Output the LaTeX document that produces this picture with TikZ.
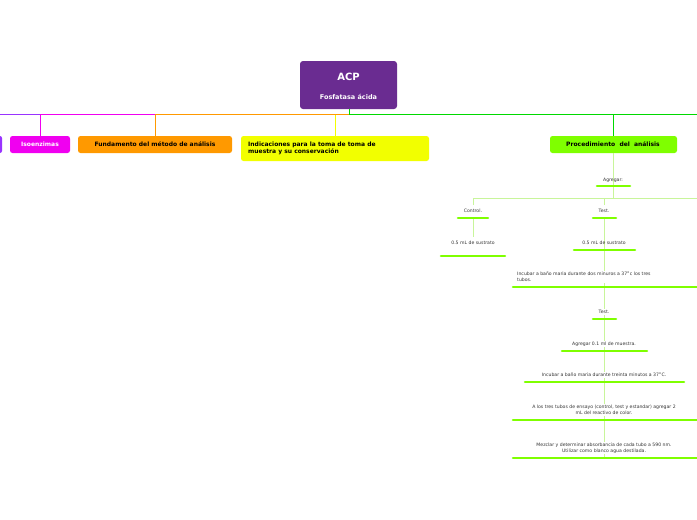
\documentclass[tikz,border=0pt]{standalone}
\usepackage{fontspec}
\setmainfont{DejaVu Sans}
\definecolor{acp}{HTML}{6A2C91}
\definecolor{mag}{HTML}{F000F0}
\definecolor{org}{HTML}{FF9900}
\definecolor{yel}{HTML}{F2FF00}
\definecolor{grn}{HTML}{7FFF00}
\definecolor{lgrn}{HTML}{C8F59A}
\definecolor{pur}{HTML}{9933FF}
\begin{document}
\begin{tikzpicture}[x=1pt,y=-1pt,
  box/.style={rounded corners=2.5pt,inner sep=0pt,font=\bfseries\fontsize{6}{7.5}\selectfont},
  lab/.style={font=\fontsize{4.6}{6}\selectfont,align=center,inner sep=0pt,text=black!80},
  bar/.style={grn,line width=2.6pt,line cap=round},
  conn/.style={lgrn,line width=0.8pt}]
\useasboundingbox (0,0) rectangle (697,520);
% main
\fill[acp,rounded corners=3pt] (300,61) rectangle (397,109);
\node[font=\bfseries\fontsize{10}{12}\selectfont,text=white] (acp) at (348.5,77) {ACP};
\node[font=\bfseries\fontsize{6.5}{8}\selectfont,text=white] (acp2) at (348.5,97) {Fosfatasa ácida};
\coordinate (root) at (349,109);
% branch lines
\draw[yel,line width=0.8pt] (root) -- (349,114) -- (335,114) -- (335,136);
\draw[org,line width=0.8pt] (349,114) -- (155,114) -- (155,136);
\draw[mag,line width=0.8pt] (155,114) -- (40,114) -- (40,136);
\draw[pur,line width=0.8pt] (40,114) -- (0,114);
\draw[green!85!black,line width=0.8pt] (root) -- (349,114) -- (697,114);
\draw[green!85!black,line width=0.8pt] (613,114) -- (613,136);
% boxes
\fill[pur,rounded corners=2pt] (-4,136) rectangle (2,153);
\fill[mag,rounded corners=2.5pt] (10,136) rectangle (70,153);
\node[box,text=white] (iso) at (40,144.5) {Isoenzimas};
\fill[org,rounded corners=2.5pt] (78,136) rectangle (232,153);
\node[box] (fun) at (155,144.5) {Fundamento del método de análisis};
\fill[yel,rounded corners=2.5pt] (241,136) rectangle (429,161);
\node[box,align=left,anchor=west] (ind) at (248,148.5) {Indicaciones para la toma de toma de\\muestra y su conservación};
\fill[grn,rounded corners=2.5pt] (550,136) rectangle (677,153);
\node[box] (proc) at (613,144.5) {Procedimiento\ \ del\ \ análisis};
% tree
\draw[conn] (613,153) -- (613,186);
\node[lab] (ag) at (613,180) {Agregar:};
\draw[conn] (613,186) -- (613,198);
\draw[conn] (473,205) -- (473,198) -- (697,198);
\draw[conn] (604,198) -- (604,205);
\node[lab] (c1) at (473,211) {Control.};
\draw[conn] (473,218) -- (473,237);
\node[lab] (c2) at (473,243) {0.5 mL de sustrato};
\node[lab] (t1) at (604,211) {Test.};
\draw[conn] (604,218) -- (604,458);
\node[lab] (t2) at (604,243) {0.5 mL de sustrato};
\node[lab,align=left,anchor=west,fill=white,inner sep=1pt] (inc1) at (516,277) {Incubar a baño maria durante dos minuros a 37$^{\mathrm{o}}$c los tres\\tubos.};
\node[lab,fill=white,inner sep=1pt] (t3) at (604,312) {Test.};
\node[lab,fill=white,inner sep=1pt] (a01) at (604,344) {Agregar 0.1 ml de muestra.};
\node[lab,fill=white,inner sep=1pt] (inc2) at (604,375) {Incubar a baño maria durante treinta minutos a 37$^{\mathrm{o}}$C.};
\node[lab,fill=white,inner sep=1pt] (tres) at (604,410) {A los tres tubos de ensayo (control, test y estandar) agregar 2\\mL del reactivo de color.};
\node[lab,fill=white,inner sep=1pt] (mez) at (604,448) {Mezclar y determinar absorbancia de cada tubo a 590 nm.\\Utilizar como blanco agua destilada.};
% bars
\draw[bar] (597,186) -- (630,186);
\draw[bar] (458,218) -- (488,218);
\draw[bar] (441,256) -- (505,256);
\draw[bar] (593,218) -- (616,218);
\draw[bar] (574,250) -- (635,250);
\draw[bar] (513,287) -- (697,287);
\draw[bar] (593,319) -- (616,319);
\draw[bar] (562,351) -- (647,351);
\draw[bar] (525,382) -- (684,382);
\draw[bar] (513,420) -- (697,420);
\draw[bar] (513,458) -- (697,458);
\end{tikzpicture}
\end{document}
